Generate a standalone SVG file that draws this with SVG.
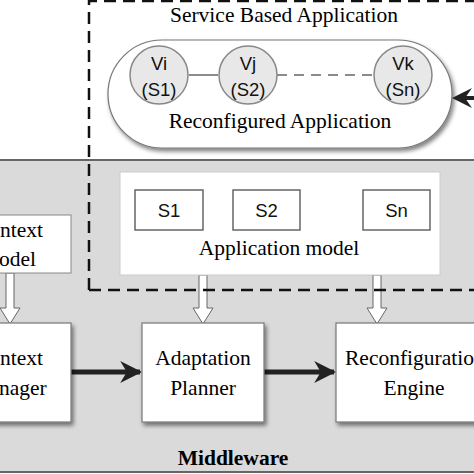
<svg xmlns="http://www.w3.org/2000/svg" width="474" height="474" viewBox="0 0 474 474">
<defs>
<filter id="sh" x="-10%" y="-10%" width="130%" height="130%">
<feGaussianBlur in="SourceAlpha" stdDeviation="2"/>
<feOffset dx="2" dy="3"/>
<feComponentTransfer><feFuncA type="linear" slope="0.5"/></feComponentTransfer>
<feMerge><feMergeNode/><feMergeNode in="SourceGraphic"/></feMerge>
</filter>
<marker id="ah" viewBox="0 0 10 10" refX="9" refY="5" markerWidth="4.4" markerHeight="4.4" orient="auto" markerUnits="strokeWidth">
<path d="M0,0 L10,5 L0,10 L3,5 Z" fill="#222"/>
</marker>
</defs>
<style>
.tr{font-family:"Liberation Serif",serif;font-size:21.5px;fill:#000}
.ar{font-family:"Liberation Sans",Arial,sans-serif;font-size:18.5px;fill:#111}
.box{fill:#fff;stroke:#777;stroke-width:1.2}
.sbox{fill:#fff;stroke:#666;stroke-width:1.5}
.circ{fill:#e8e8e8;stroke:#888;stroke-width:1.5}
.ln{stroke:#666;stroke-width:1.5;fill:none}
.dl{stroke:#666;stroke-width:1.5;fill:none;stroke-dasharray:10 7}
.hol{fill:#fff;stroke:#666;stroke-width:1}
.blk{stroke:#222;stroke-width:5;fill:none}
</style>
<rect x="-5" y="160" width="490" height="312" fill="#dadada" stroke="#666" stroke-width="2"/>
<g id="service-based-application">
<text class="tr" x="284" y="22" text-anchor="middle">Service Based Application</text>
</g>
<g id="reconfigured-application">
<rect x="108" y="40" width="344" height="108" rx="54" fill="#fff" stroke="#777" stroke-width="1.2" filter="url(#sh)"/>
<text class="tr" x="280" y="128" text-anchor="middle">Reconfigured Application</text>
</g>
<g id="connectors">
<line class="ln" x1="189" y1="75" x2="218" y2="75"/>
<line class="dl" x1="277" y1="75" x2="374" y2="75"/>
<line class="ln" x1="203" y1="210" x2="233" y2="210"/>
<line class="dl" x1="300" y1="210" x2="363" y2="210" stroke-dasharray="12 8"/>
<line x1="474" y1="98" x2="462" y2="98" stroke="#222" stroke-width="4"/>
<path d="M452,98 L472,88 L465,98 L472,108 Z" fill="#222"/>
<path class="hol" d="M6,273 V308 H0 L10,324 L20,308 H14 V273 Z"/>
<path class="hol" d="M199,275 V308 H193 L203,324 L213,308 H207 V275 Z"/>
<path class="hol" d="M373,275 V308 H367 L377,324 L387,308 H381 V275 Z"/>
<line class="blk" x1="71" y1="372" x2="140" y2="372" marker-end="url(#ah)"/>
<line class="blk" x1="264" y1="372" x2="334" y2="372" marker-end="url(#ah)"/>
</g>
<g id="vi">
<circle class="circ" cx="159" cy="75" r="29"/>
<text class="ar" x="159" y="70" text-anchor="middle">Vi</text>
<text class="ar" x="159" y="96" text-anchor="middle">(S1)</text>
</g>
<g id="vj">
<circle class="circ" cx="248" cy="75" r="29"/>
<text class="ar" x="248" y="70" text-anchor="middle">Vj</text>
<text class="ar" x="248" y="96" text-anchor="middle">(S2)</text>
</g>
<g id="vk">
<circle class="circ" cx="403" cy="75" r="29"/>
<text class="ar" x="403" y="70" text-anchor="middle">Vk</text>
<text class="ar" x="403" y="96" text-anchor="middle">(Sn)</text>
</g>
<g id="application-model">
<rect x="120" y="172" width="320" height="103" fill="#fff" stroke="#ccc" stroke-width="1"/>
<text class="tr" x="279" y="255" text-anchor="middle">Application model</text>
</g>
<g id="s1"><rect class="sbox" x="135" y="190" width="68" height="40"/><text class="ar" x="169" y="217" text-anchor="middle">S1</text></g>
<g id="s2"><rect class="sbox" x="233" y="190" width="67" height="40"/><text class="ar" x="266.5" y="217" text-anchor="middle">S2</text></g>
<g id="sn"><rect class="sbox" x="363" y="190" width="67" height="40"/><text class="ar" x="396.5" y="217" text-anchor="middle">Sn</text></g>
<path d="M89,290 V1 H480 M89,290 H480" fill="none" stroke="#111" stroke-width="2.5" stroke-dasharray="12 7"/>
<g id="context-model">
<rect x="-10" y="215" width="81" height="58" fill="#fff" stroke="#888" stroke-width="1"/>
<text class="tr" x="0" y="237">ntext</text>
<text class="tr" x="-1" y="266">odel</text>
</g>
<g id="context-manager">
<rect x="-10" y="323" width="81" height="99" class="box" filter="url(#sh)"/>
<text class="tr" x="0" y="365">ntext</text>
<text class="tr" x="-1" y="395">nager</text>
</g>
<g id="adaptation-planner">
<rect x="142" y="323" width="122" height="99" class="box" filter="url(#sh)"/>
<text class="tr" x="203" y="365" text-anchor="middle">Adaptation</text>
<text class="tr" x="203" y="395" text-anchor="middle">Planner</text>
</g>
<g id="reconfiguration-engine">
<rect x="336" y="323" width="150" height="99" class="box" filter="url(#sh)"/>
<text class="tr" x="345" y="365">Reconfiguratio</text>
<text class="tr" x="414" y="395" text-anchor="middle">Engine</text>
</g>
<g id="middleware">
<text class="tr" x="233" y="465" text-anchor="middle" font-weight="bold">Middleware</text>
</g>
</svg>
